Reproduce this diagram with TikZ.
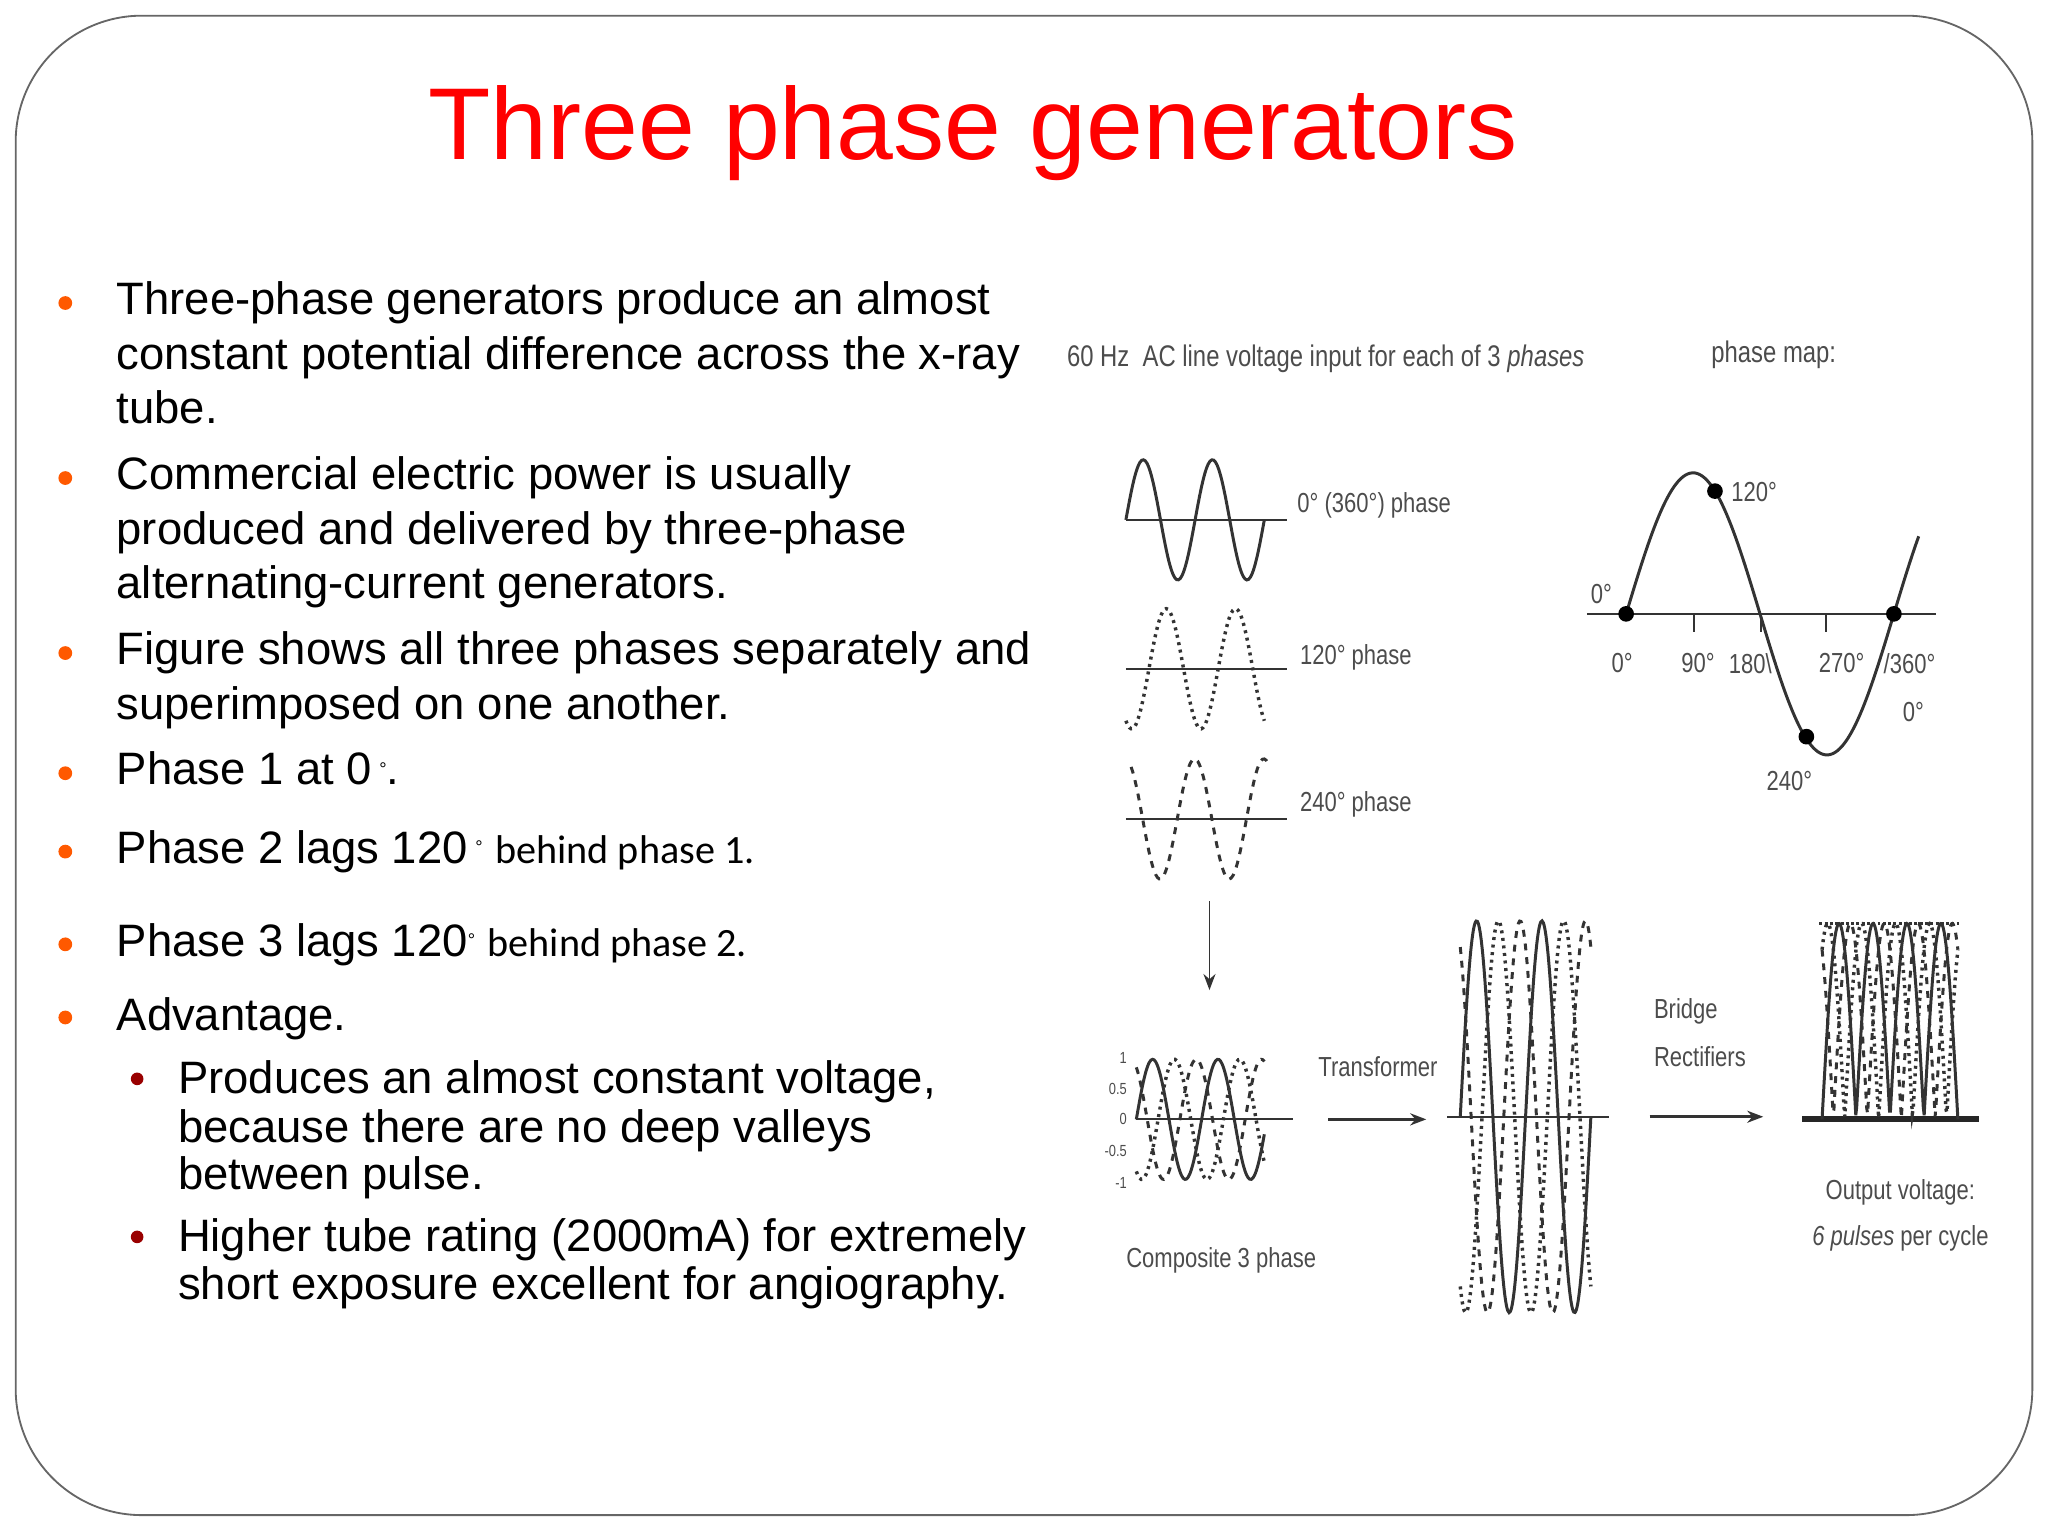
\documentclass[tikz,border=0pt]{standalone}
\usepackage{fontspec}
\setmainfont{Liberation Sans}
\newfontfamily\calfnt{Carlito}
\usetikzlibrary{arrows.meta}
\newcommand{\nar}[1]{\scalebox{0.8}[1]{#1}}
\newcommand{\dg}{{\footnotesize\textdegree}}
\begin{document}
\begin{tikzpicture}[x=0.02cm,y=-0.02cm,
 body/.style={anchor=base west,inner sep=0,font=\fontsize{19.8}{22}\selectfont},
 bul/.style={circle,fill=orange!70!red,inner sep=0,minimum size=6pt},
 sbul/.style={circle,fill=red!60!black,inner sep=0,minimum size=5.5pt},
 lab/.style={inner sep=0,text=black!70,font=\fontsize{12}{14}\selectfont},
 wv/.style={line width=1.3pt,black!80},
 ax/.style={line width=0.9pt,black!80},
 arr/.style={line width=1.2pt,black!80,-{Stealth[length=7pt]}}]
\useasboundingbox (0,0) rectangle (1568,1176);
\draw[black!60,line width=0.8pt,rounded corners=55] (12,12) rectangle (1556,1160);
\node[text=red,font=\fontsize{44.5}{50}\selectfont] (title) at (745,102) {Three phase generators};
% bullets
\foreach \y/\t in {241/{Three-phase generators produce an almost},283/{constant potential difference across the x-ray},324/{tube.},375/{Commercial electric power is usually},417/{produced and delivered by three-phase},458/{alternating-current generators.},509/{Figure shows all three phases separately and},551/{superimposed on one another.},601/{Phase 1 at 0\,\raisebox{0.4ex}{\dg}.},789/{Advantage.}}
 \node[body] at (89,\y) {\t};
\node[body] (p2) at (89,661) {Phase 2 lags 120\,\raisebox{0.4ex}{\dg} {\calfnt\fontsize{17.5}{20}\selectfont behind phase 1.}};
\node[body] (p3) at (89,732) {Phase 3 lags 120\raisebox{0.4ex}{\dg} {\calfnt\fontsize{17.5}{20}\selectfont behind phase 2.}};
\foreach \y in {232,366,500,592,652,723,779} \node[bul] at (50,\y) {};
\foreach \y/\t in {837/{Produces an almost constant voltage,},875/{because there are no deep valleys},911/{between pulse.},958/{Higher tube rating (2000mA) for extremely},995/{short exposure excellent for angiography.}}
 \node[body] at (136,\y) {\t};
\foreach \y in {826,947} \node[sbul] at (105,\y) {};
% diagram labels
\node[lab,font=\fontsize{13}{14}\selectfont] (hdr) at (1015,275) {\nar{60 Hz\ \ AC line voltage input for each of 3 \textit{phases}}};
\node[lab,font=\fontsize{13}{14}\selectfont] (pm) at (1358,272) {\nar{phase map:}};
% phase waves
\draw[ax] (862,398) -- (985,398);
\draw[wv] plot[domain=0:106,samples=80,smooth] ({862+\x},{398-46*sin((\x/53)*360)});
\node[lab,anchor=west] (l0) at (993,387) {\nar{0\textdegree\ (360\textdegree) phase}};
\draw[ax] (862,512) -- (985,512);
\draw[wv,dotted,line width=1.5pt] plot[domain=0:106,samples=80,smooth] ({862+\x},{512-46*sin((\x/53)*360-120)});
\node[lab,anchor=west] (l1) at (995,503) {\nar{120\textdegree\ phase}};
\draw[ax] (862,627) -- (985,627);
\draw[wv,dashed] plot[domain=0:106,samples=80,smooth] ({866+\x},{627-46*sin((\x/53)*360-240)});
\node[lab,anchor=west] (l2) at (995,616) {\nar{240\textdegree\ phase}};
\coordinate (d0) at (926,690); \coordinate (d1) at (926,758);
\draw[arr,line width=0.8pt] (d0) -- (d1);
% composite
\draw[ax] (870,857) -- (990,857);
\draw[wv] plot[domain=0:98,samples=80,smooth] ({870+\x},{857-46*sin((\x/50)*360)});
\draw[wv,dotted,line width=1.5pt] plot[domain=0:98,samples=80,smooth] ({870+\x},{857-46*sin((\x/50)*360-120)});
\draw[wv,dashed] plot[domain=0:98,samples=80,smooth] ({870+\x},{857-46*sin((\x/50)*360-240)});
\foreach \y/\t in {810/1,834/0.5,857/0,881/-0.5,906/-1} \node[lab,font=\fontsize{7}{8}\selectfont,anchor=east] at (863,\y) {\nar{\t}};
\node[lab] (comp) at (935,965) {\nar{Composite 3 phase}};
\node[lab] (tr) at (1055,817) {\nar{Transformer}};
\coordinate (a0) at (1017,857); \coordinate (a1) at (1092,857);
\draw[arr] (a0) -- (a1);
% transformer waves
\draw[ax] (1108,855) -- (1232,855);
\draw[wv] plot[domain=0:100,samples=100,smooth] ({1118+\x},{855-150*sin((\x/50)*360)});
\draw[wv,dotted,line width=1.5pt] plot[domain=0:100,samples=100,smooth] ({1118+\x},{855-150*sin((\x/50)*360-120)});
\draw[wv,dashed] plot[domain=0:100,samples=100,smooth] ({1118+\x},{855-150*sin((\x/50)*360-240)});
\node[lab,anchor=west] (br1) at (1266,774) {\nar{Bridge}};
\node[lab,anchor=west] (br2) at (1266,809) {\nar{Rectifiers}};
\coordinate (b0) at (1263,855); \coordinate (b1) at (1350,855);
\draw[arr] (b0) -- (b1);
% output
\draw[line width=2.5pt,black!85] (1380,857) -- (1515,857);
\draw[wv] plot[domain=0:104,samples=150] ({1395+\x},{857-150*abs(sin((\x/52)*360))});
\draw[wv,dotted,line width=1.5pt] plot[domain=0:104,samples=150] ({1395+\x},{857-150*abs(sin((\x/52)*360-120))});
\draw[wv,dashed] plot[domain=0:104,samples=150] ({1395+\x},{857-150*abs(sin((\x/52)*360-240))});
\draw[wv,densely dotted] (1393,707) -- (1500,707);
\node[lab] (out1) at (1455,913) {\nar{Output voltage:}};
\node[lab] (out2) at (1455,948) {\nar{\textit{6 pulses} per cycle}};
% phase map
\draw[ax] (1215,470) -- (1482,470);
\draw[wv] plot[domain=0:224,samples=120,smooth] ({1245+\x},{470-108*sin((\x/205)*360)});
\foreach \x in {1297,1348,1398} \draw[ax] (\x,470) -- (\x,484);
\foreach \x/\y in {1245/470,1313/376,1383/564,1450/470} \fill (\x,\y) circle (6);
\node[lab] at (1226,455) {\nar{0\textdegree}};
\node[lab] at (1343,377) {\nar{120\textdegree}};
\node[lab] at (1370,598) {\nar{240\textdegree}};
\node[lab] at (1242,508) {\nar{0\textdegree}};
\node[lab] at (1300,508) {\nar{90\textdegree}};
\node[lab] at (1340,508) {\nar{180\textbackslash}};
\node[lab] at (1410,508) {\nar{270\textdegree}};
\node[lab] at (1462,508) {\nar{/360\textdegree}};
\node[lab] at (1465,545) {\nar{0\textdegree}};
\end{tikzpicture}
\end{document}
